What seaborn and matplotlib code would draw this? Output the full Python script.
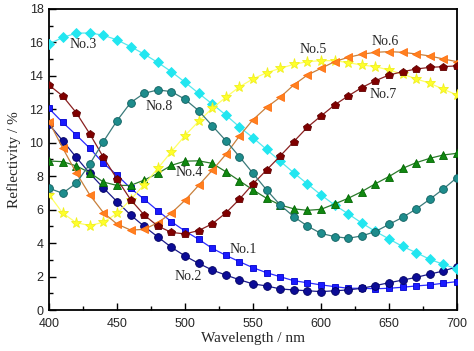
import numpy as np
import pandas as pd
import matplotlib
matplotlib.use("Agg")
import matplotlib.pyplot as plt
import seaborn as sns
from matplotlib.ticker import MultipleLocator

wavelength = list(range(400, 701, 10))

no1 = [12.05, 11.22, 10.47, 9.67, 8.77, 8.07, 7.28, 6.62, 5.94, 5.28, 4.72, 4.23, 3.69, 3.27, 2.89,
       2.53, 2.23, 1.99, 1.75, 1.63, 1.50, 1.40, 1.30, 1.30, 1.27, 1.30, 1.36, 1.44, 1.50, 1.60, 1.70]
no2 = [11.10, 10.13, 9.13, 8.17, 7.30, 6.48, 5.68, 5.00, 4.37, 3.75, 3.23, 2.79, 2.39, 2.09, 1.81,
       1.56, 1.44, 1.26, 1.20, 1.15, 1.10, 1.15, 1.20, 1.30, 1.46, 1.63, 1.79, 1.95, 2.15, 2.33, 2.59]
no3 = [15.90, 16.30, 16.55, 16.57, 16.43, 16.15, 15.75, 15.30, 14.80, 14.25, 13.62, 12.96, 12.32, 11.66, 10.95,
       10.30, 9.60, 8.90, 8.20, 7.54, 6.88, 6.28, 5.75, 5.20, 4.70, 4.25, 3.80, 3.43, 3.03, 2.73, 2.45]
no4 = [8.91, 8.87, 8.62, 8.21, 7.65, 7.45, 7.45, 7.77, 8.17, 8.65, 8.90, 8.92, 8.77, 8.27, 7.73,
       7.18, 6.68, 6.28, 6.05, 5.96, 6.02, 6.34, 6.68, 7.08, 7.55, 7.98, 8.47, 8.81, 9.07, 9.27, 9.37]
no5 = [6.90, 5.80, 5.22, 5.05, 5.25, 5.78, 6.60, 7.50, 8.47, 9.47, 10.43, 11.28, 12.06, 12.72, 13.34,
       13.82, 14.19, 14.45, 14.69, 14.85, 14.91, 14.91, 14.79, 14.65, 14.55, 14.35, 14.11, 13.82, 13.56, 13.20, 12.86]
no6 = [11.26, 9.70, 8.21, 6.88, 5.82, 5.14, 4.78, 4.82, 5.22, 5.80, 6.56, 7.45, 8.35, 9.30, 10.40,
       11.38, 12.12, 12.72, 13.46, 14.05, 14.45, 14.85, 15.11, 15.29, 15.41, 15.45, 15.41, 15.31, 15.19, 15.01, 14.85]
no7 = [13.45, 12.80, 11.80, 10.53, 9.13, 7.83, 6.60, 5.68, 5.02, 4.64, 4.55, 4.75, 5.15, 5.80, 6.62,
       7.54, 8.37, 9.21, 10.07, 10.93, 11.60, 12.26, 12.80, 13.30, 13.71, 14.05, 14.25, 14.41, 14.51, 14.55, 14.60]
no8 = [7.28, 6.98, 7.58, 8.73, 10.07, 11.32, 12.40, 12.96, 13.16, 13.06, 12.60, 11.92, 11.02, 10.13, 9.17,
       8.17, 7.18, 6.28, 5.58, 5.02, 4.58, 4.39, 4.29, 4.43, 4.69, 5.12, 5.54, 6.04, 6.62, 7.24, 7.92]

labels = ["No.1", "No.2", "No.3", "No.4", "No.5", "No.6", "No.7", "No.8"]
series = [no1, no2, no3, no4, no5, no6, no7, no8]

# label positions (left x, centre y) in data units
label_x = [533, 492, 415, 493, 584, 637, 636, 471]
label_y = [3.6, 2.0, 15.85, 8.2, 15.55, 16.05, 12.86, 12.14]

styles = {
    "No.1": dict(color="#1a1aff", line="#2a2aff", marker="s", ms=4.6, mec="#0000cc"),
    "No.2": dict(color="#0c0c96", line="#1a1a8a", marker="o", ms=5.6, mec="#000060"),
    "No.3": dict(color="#22e6f0", line="#55e8ee", marker="D", ms=5.0, mec="#22e6f0"),
    "No.4": dict(color="#118811", line="#2a7a2a", marker="^", ms=6.2, mec="#006600"),
    "No.5": dict(color="#ffff2a", line="#ffff66", marker="*", ms=8.0, mec="#f0f020"),
    "No.6": dict(color="#ff8020", line="#c8803c", marker="<", ms=6.2, mec="#ff7010"),
    "No.7": dict(color="#800000", line="#8a2020", marker="p", ms=6.2, mec="#600000"),
    "No.8": dict(color="#1e8c8c", line="#3a7a7a", marker="o", ms=5.6, mec="#0f5f5f"),
}

df = pd.DataFrame({"Wavelength": wavelength})
for lab, s in zip(labels, series):
    df[lab] = s

sns.set_style("ticks")
plt.rcParams["font.family"] = ["Liberation Sans", "DejaVu Sans"]

fig = plt.figure(figsize=(4.74, 3.51), dpi=100)
ax = fig.add_axes([0.1034, 0.1168, 0.8607, 0.8576])

for lab in labels:
    st = styles[lab]
    sns.lineplot(data=df, x="Wavelength", y=lab, ax=ax, color=st["line"], lw=0.9,
                 marker=st["marker"], markersize=st["ms"], markerfacecolor=st["color"],
                 markeredgecolor=st["mec"], markeredgewidth=0.6, zorder=3)

serif = ["Liberation Serif", "DejaVu Serif"]
for lab, lx, ly in zip(labels, label_x, label_y):
    ax.text(lx, ly, lab, ha="left", va="center", fontsize=10, family=serif, zorder=5)

ax.set_xlim(400, 700)
ax.set_ylim(0, 18)
ax.xaxis.set_major_locator(MultipleLocator(50))
ax.xaxis.set_minor_locator(MultipleLocator(25))
ax.yaxis.set_major_locator(MultipleLocator(2))
ax.yaxis.set_minor_locator(MultipleLocator(1))
ax.tick_params(which="both", direction="in", top=False, right=False, labelsize=9,
               width=1.0, color="black")
ax.tick_params(axis="x", which="both", pad=6)
ax.tick_params(axis="y", which="both", pad=4)
ax.tick_params(which="major", length=5)
ax.tick_params(which="minor", length=3)
for sp in ax.spines.values():
    sp.set_visible(True)
    sp.set_linewidth(1.3)
    sp.set_color("black")

ax.set_xlabel("Wavelength / nm", fontsize=11, family=serif, labelpad=1)
ax.set_ylabel("Reflectivity / %", fontsize=11, family=serif, labelpad=6)

fig.savefig("out.png", dpi=100)
